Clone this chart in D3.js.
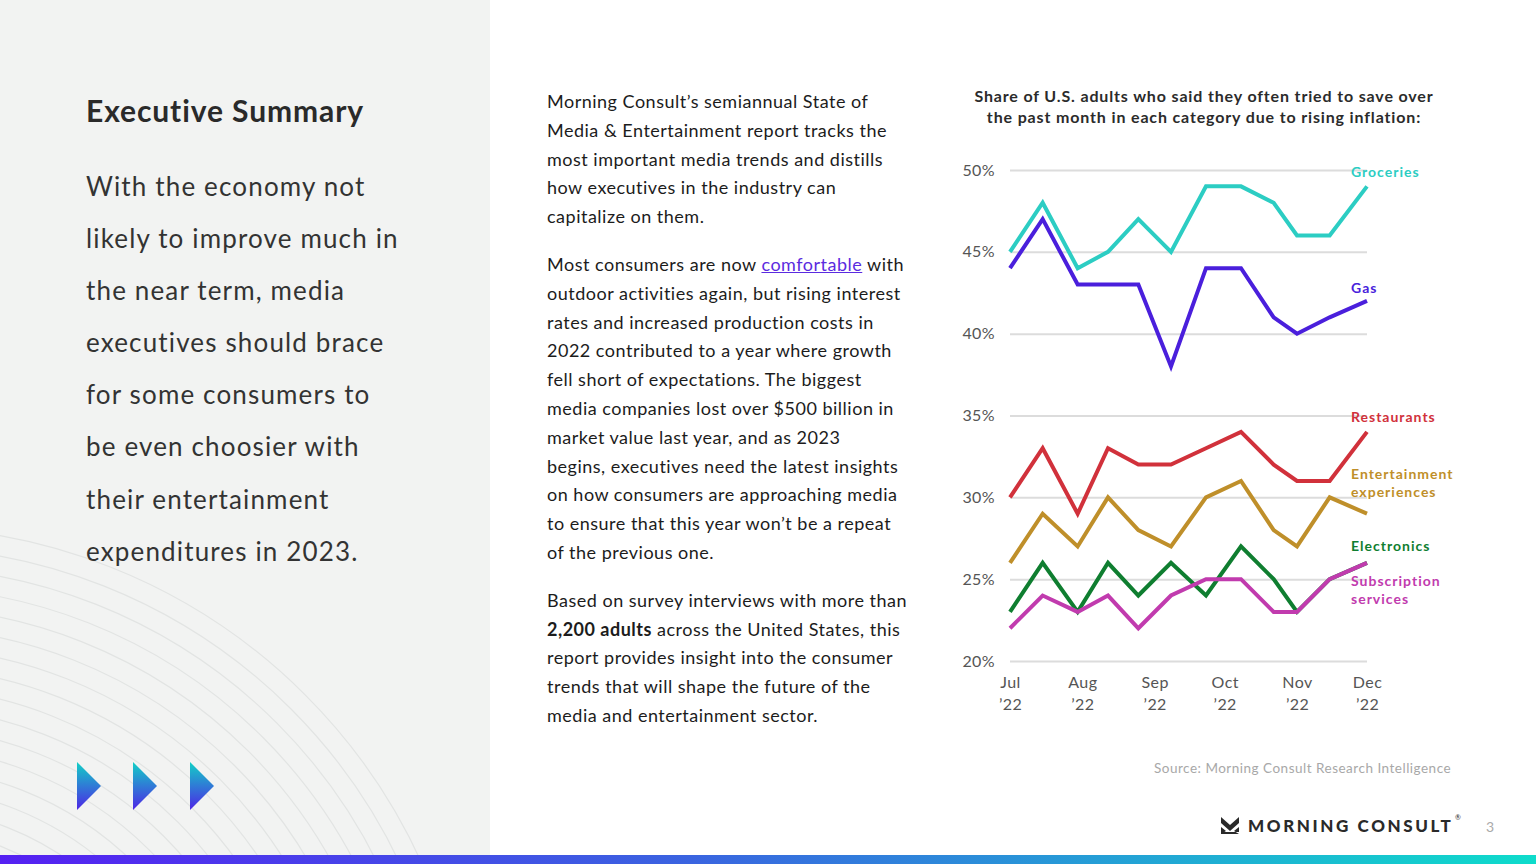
<!DOCTYPE html>
<html>
<head>
<meta charset="utf-8">
<script src="https://cdn.jsdelivr.net/npm/d3@7"></script>
<style>
  html, body { margin: 0; padding: 0; width: 1536px; height: 864px; overflow: hidden; background: #fff; }
  body { font-family: Lato, "Open Sans", sans-serif; color: #222; }
  svg { position: absolute; left: 0; top: 0; }
  .txt { position: absolute; white-space: nowrap; }
  #summary { left: 86px; top: 92px; }
  #summary h1 { margin: 0; font-size: 30px; font-weight: 700; color: #2a2a2a; line-height: 36px; letter-spacing: 0.9px; }
  #summary .big { margin-top: 32px; font-size: 26px; line-height: 52.1px; color: #333; letter-spacing: 1.15px; }
  #body { left: 547px; top: 87px; font-size: 18px; line-height: 28.8px; color: #1c1c1c; letter-spacing: 0.5px; }
  #body p { margin: 0 0 19px 0; }
  #body a { color: #5b2be0; text-decoration: underline; }
</style>
</head>
<body>
<svg id="page" width="1536" height="864"></svg>
<div class="txt" id="summary">
  <h1>Executive Summary</h1>
  <div class="big">With the economy not<br>likely to improve much in<br>the near term, media<br>executives should brace<br>for some consumers to<br>be even choosier with<br>their entertainment<br>expenditures in 2023.</div>
</div>
<div class="txt" id="body">
  <p>Morning Consult’s semiannual State of<br>Media &amp; Entertainment report tracks the<br>most important media trends and distills<br>how executives in the industry can<br>capitalize on them.</p>
  <p>Most consumers are now <a>comfortable</a> with<br>outdoor activities again, but rising interest<br>rates and increased production costs in<br>2022 contributed to a year where growth<br>fell short of expectations. The biggest<br>media companies lost over $500 billion in<br>market value last year, and as 2023<br>begins, executives need the latest insights<br>on how consumers are approaching media<br>to ensure that this year won’t be a repeat<br>of the previous one.</p>
  <p>Based on survey interviews with more than<br><b>2,200 adults</b> across the United States, this<br>report provides insight into the consumer<br>trends that will shape the future of the<br>media and entertainment sector.</p>
</div>
<script>
// survey waves (roughly twice a month)
const waves = ['2022-07-01', '2022-07-15', '2022-07-30', '2022-08-12', '2022-08-25', '2022-09-08',
  '2022-09-23', '2022-10-08', '2022-10-22', '2022-11-01', '2022-11-15', '2022-12-01'];
const monthTicks = ['2022-07-01', '2022-08-01', '2022-09-01', '2022-10-01', '2022-11-01', '2022-12-01'];
const yTicks = [20, 25, 30, 35, 40, 45, 50];

const groceries = [45, 48, 44, 45, 47, 45, 49, 49, 48, 46, 46, 49];
const gas = [44, 47, 43, 43, 43, 38, 44, 44, 41, 40, 41, 42];
const restaurants = [30, 33, 29, 33, 32, 32, 33, 34, 32, 31, 31, 34];
const entertainment = [26, 29, 27, 30, 28, 27, 30, 31, 28, 27, 30, 29];
const electronics = [23, 26, 23, 26, 24, 26, 24, 27, 25, 23, 25, 26];
const subscription = [22, 24, 23, 24, 22, 24, 25, 25, 23, 23, 25, 26];

const seriesNames = ['Groceries', 'Gas', 'Restaurants', 'Entertainment experiences', 'Electronics', 'Subscription services'];

const parse = d3.timeParse('%Y-%m-%d');
const svg = d3.select('#page');

// ---- page background ----
svg.append('rect').attr('x', 0).attr('y', 0).attr('width', 490).attr('height', 864).attr('fill', '#f2f3f2');

const defs = svg.append('defs');
const clip = defs.append('clipPath').attr('id', 'leftclip');
clip.append('rect').attr('x', 0).attr('y', 0).attr('width', 490).attr('height', 864);

const arcs = svg.append('g').attr('clip-path', 'url(#leftclip)');
d3.range(573, 200, -20).forEach(r => {
  arcs.append('circle').attr('cx', -100).attr('cy', 1100).attr('r', r)
    .attr('fill', 'none').attr('stroke', '#e2e4e3').attr('stroke-width', 1.2);
});

const arrowGrad = defs.append('linearGradient').attr('id', 'arrowGrad')
  .attr('x1', 0).attr('y1', 0).attr('x2', 0).attr('y2', 1);
arrowGrad.append('stop').attr('offset', '0%').attr('stop-color', '#12d0c6');
arrowGrad.append('stop').attr('offset', '100%').attr('stop-color', '#4d25e6');
[77, 133, 190].forEach(x => {
  svg.append('path')
    .attr('d', `M${x},762 L${x + 24},786 L${x},810 Z`)
    .attr('fill', 'url(#arrowGrad)');
});

const barGrad = defs.append('linearGradient').attr('id', 'barGrad');
barGrad.append('stop').attr('offset', '0%').attr('stop-color', '#5520f2');
barGrad.append('stop').attr('offset', '45%').attr('stop-color', '#3a64e0');
barGrad.append('stop').attr('offset', '100%').attr('stop-color', '#0edccb');
svg.append('rect').attr('x', 0).attr('y', 855).attr('width', 1536).attr('height', 9).attr('fill', 'url(#barGrad)');

// ---- chart ----
const x = d3.scaleTime()
  .domain([parse('2022-07-01'), parse('2022-12-01')])
  .range([1010, 1367]);
const y = d3.scaleLinear().domain([20, 50]).range([661, 170]);

const chart = svg.append('g');

chart.append('text')
  .attr('x', 1204).attr('y', 102).attr('text-anchor', 'middle')
  .attr('font-size', 16).attr('font-weight', 700).attr('fill', '#2b2b2b').attr('letter-spacing', 0.85)
  .text('Share of U.S. adults who said they often tried to save over');
chart.append('text')
  .attr('x', 1204).attr('y', 123).attr('text-anchor', 'middle')
  .attr('font-size', 16).attr('font-weight', 700).attr('fill', '#2b2b2b').attr('letter-spacing', 0.85)
  .text('the past month in each category due to rising inflation:');

const yAxis = d3.axisLeft(y).tickValues(yTicks).tickSize(-357).tickFormat(d => d + '%');
const gy = chart.append('g').attr('transform', 'translate(1010,0)').call(yAxis);
gy.select('.domain').remove();
gy.selectAll('.tick line').attr('stroke', '#dcdcdc').attr('stroke-width', 2);
gy.selectAll('.tick text').attr('x', -15).attr('font-size', 16).attr('fill', '#555')
  .attr('letter-spacing', 0.4).attr('font-family', 'Lato, sans-serif');

const xAxis = d3.axisBottom(x).tickValues(monthTicks.map(parse)).tickSize(0).tickFormat(d3.timeFormat('%b'));
const gx = chart.append('g').attr('transform', 'translate(0,661)').call(xAxis);
gx.select('.domain').remove();
gx.selectAll('.tick text').attr('y', 16).attr('dy', 0).attr('font-size', 16).attr('fill', '#555')
  .attr('letter-spacing', 0.4).attr('font-family', 'Lato, sans-serif')
  .each(function () {
    const t = d3.select(this);
    const m = t.text();
    t.text(null);
    t.append('tspan').attr('x', 0).attr('dy', '0.71em').text(m);
    t.append('tspan').attr('x', 0).attr('dy', '1.35em').text('’22');
  });

const series = [
  { name: seriesNames[0], values: groceries, color: '#2ccdc3' },
  { name: seriesNames[1], values: gas, color: '#4a1fdc' },
  { name: seriesNames[2], values: restaurants, color: '#d1313b' },
  { name: seriesNames[3], values: entertainment, color: '#bf8f2a' },
  { name: seriesNames[4], values: electronics, color: '#0f7e30' },
  { name: seriesNames[5], values: subscription, color: '#c13bae' }
];

const line = d3.line()
  .x((d, i) => x(parse(waves[i])))
  .y(d => y(d));

chart.selectAll('path.series')
  .data(series)
  .enter()
  .append('path')
  .attr('class', 'series')
  .attr('d', d => line(d.values))
  .attr('fill', 'none')
  .attr('stroke', d => d.color)
  .attr('stroke-width', 4)
  .attr('stroke-linejoin', 'miter');

// end labels (label text baseline in % units of the y scale)
const labelSpots = [
  { i: 0, at: [49.6] , lines: ['Groceries'] },
  { i: 1, at: [42.5], lines: ['Gas'] },
  { i: 2, at: [34.6], lines: ['Restaurants'] },
  { i: 3, at: [31.1, 30.0], lines: ['Entertainment', 'experiences'] },
  { i: 4, at: [26.7], lines: ['Electronics'] },
  { i: 5, at: [24.6, 23.5], lines: ['Subscription', 'services'] }
];
labelSpots.forEach(l => {
  l.lines.forEach((s, k) => {
    chart.append('text')
      .attr('x', 1351).attr('y', y(l.at[k]))
      .attr('font-size', 14).attr('font-weight', 700).attr('letter-spacing', 1.0)
      .attr('fill', series[l.i].color)
      .text(s);
  });
});

// ---- footer ----
svg.append('text').attr('x', 1154).attr('y', 773).attr('font-size', 13.5).attr('fill', '#a8a8a8')
  .attr('letter-spacing', 0.5)
  .text('Source: Morning Consult Research Intelligence');

svg.append('path')
  .attr('d', 'M1221,817 L1230,825 L1239,817 L1239,823 L1230,831 L1221,823 Z M1221,827 L1226,831 L1221,834 Z M1239,827 L1234,831 L1239,834 Z M1221,832 L1239,832 L1239,834 L1221,834 Z')
  .attr('fill', '#2a2a2a');
svg.append('text').attr('x', 1248).attr('y', 832).attr('font-size', 17).attr('font-weight', 900)
  .attr('letter-spacing', 2.6).attr('fill', '#2a2a2a').attr('font-family', 'Lato, sans-serif')
  .text('MORNING CONSULT');
svg.append('text').attr('x', 1455).attr('y', 820).attr('font-size', 7).attr('fill', '#2a2a2a').text('®');
svg.append('text').attr('x', 1486).attr('y', 832).attr('font-size', 14).attr('fill', '#aaa').text('3');
</script>
</body>
</html>
